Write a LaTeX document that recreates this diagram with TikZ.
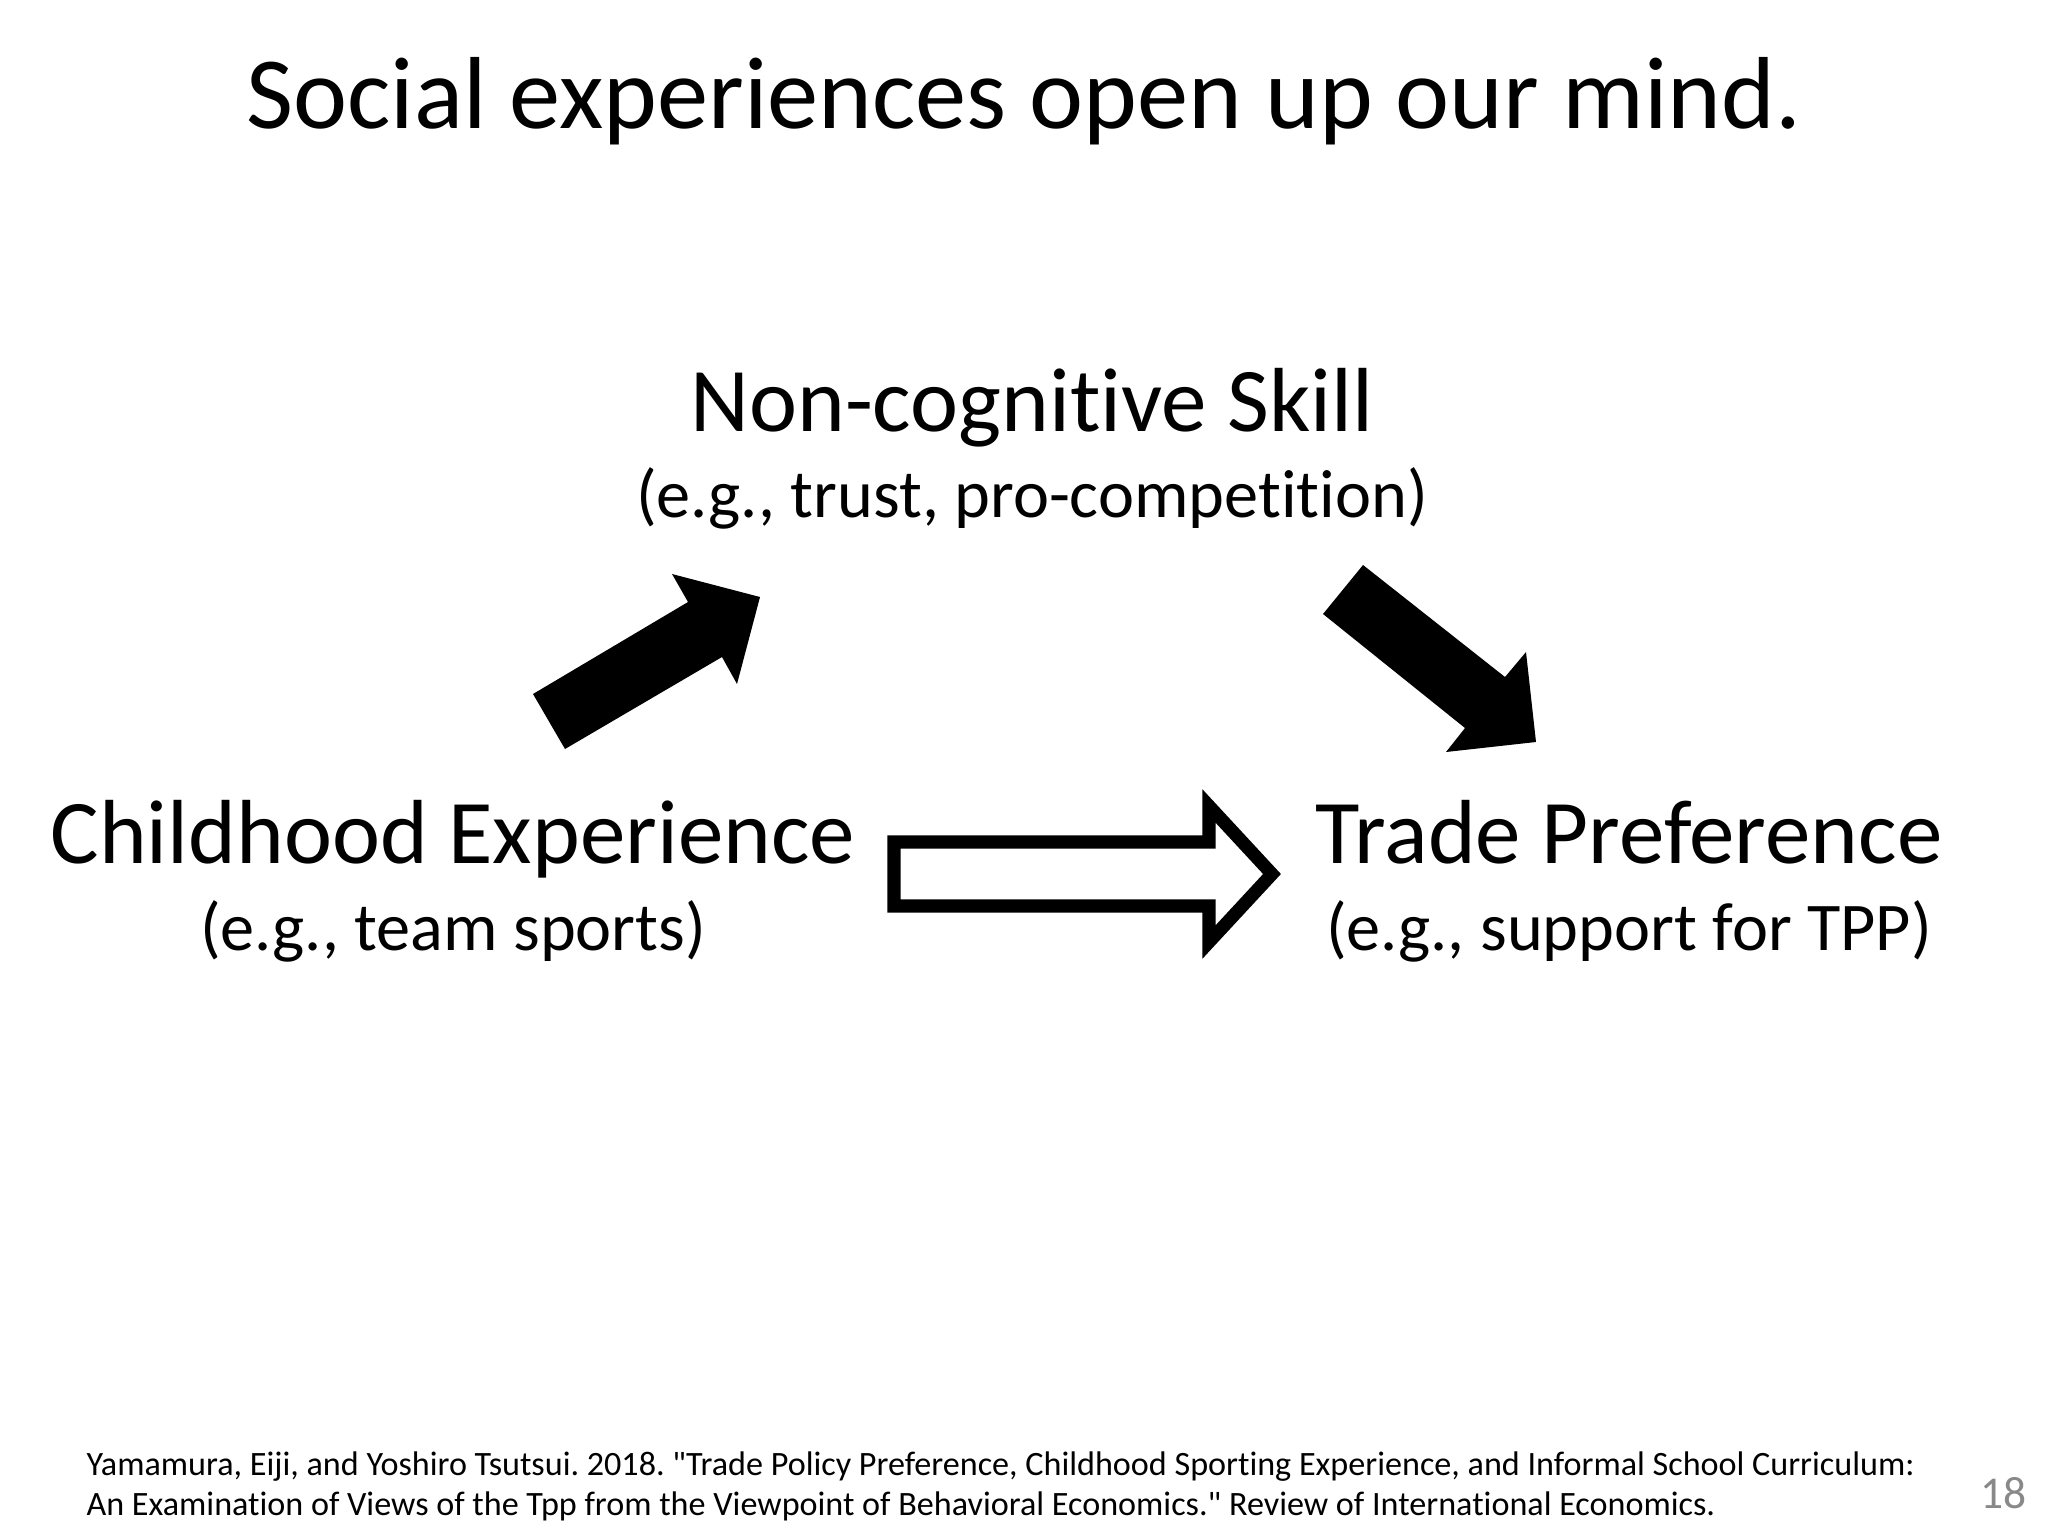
\documentclass[tikz,border=0pt]{standalone}
\usepackage{fontspec}
\setmainfont{Carlito}[Ligatures={NoCommon}]
\usepackage{xcolor}
\usepackage{tikz}
\definecolor{pagegray}{RGB}{137,137,137}
\frenchspacing

\begin{document}
\begin{tikzpicture}[
    x=0.3516pt, y=-0.3516pt,
    title/.style={anchor=base, inner sep=0pt, font=\fontsize{36}{43}\selectfont},
    main/.style={anchor=base, inner sep=0pt, font=\fontsize{32}{38}\selectfont},
    example/.style={anchor=base, inner sep=0pt, font=\fontsize{24}{29}\selectfont},
    cite/.style={anchor=base west, inner sep=0pt, font=\fontsize{12}{14}\selectfont},
    solidarrow/.style={fill=black},
    openarrow/.style={draw=black, line width=4.6pt, miter limit=10, fill=white}
]
\useasboundingbox (0,0) rectangle (2048,1536);
\node[title] (head) at (1024,128) {Social experiences open up our mind.};

\node[main] (skill) at (1032,431) {Non-cognitive Skill};
\node[example] (skillex) at (1032,517) {(e.g., trust, pro-competition)};
\node[main] (child) at (453,863) {Childhood Experience};
\node[example] (childex) at (453,950) {(e.g., team sports)};
\node[main] (trade) at (1629,863) {Trade Preference};
\node[example] (tradeex) at (1629,950) {(e.g., support for TPP)};

% block arrows
\fill[solidarrow] (533,694) -- (565,749) -- (722,657) -- (737,684) -- (760,597) -- (672,574) -- (688,602) -- cycle;
\fill[solidarrow] (1363,565) -- (1323,614) -- (1465,728) -- (1446,752) -- (1536,742) -- (1526,652) -- (1505,677) -- cycle;
\draw[openarrow] (894,842) -- (1209,842) -- (1209,806) -- (1272,874) -- (1209,942) -- (1209,906) -- (894,906) -- cycle;

% reference
\node[cite] (ref1) at (86,1475) {Yamamura, Eiji, and Yoshiro Tsutsui. 2018. \textquotedbl Trade Policy Preference, Childhood Sporting Experience, and Informal School Curriculum:};
\node[cite] (ref2) at (86,1515) {An Examination of Views of the Tpp from the Viewpoint of Behavioral Economics.\textquotedbl{} Review of International Economics.};
\node[anchor=base east, inner sep=0pt, text=pagegray, font=\fontsize{16}{19}\selectfont] (page) at (2027,1508) {18};
\end{tikzpicture}
\end{document}
